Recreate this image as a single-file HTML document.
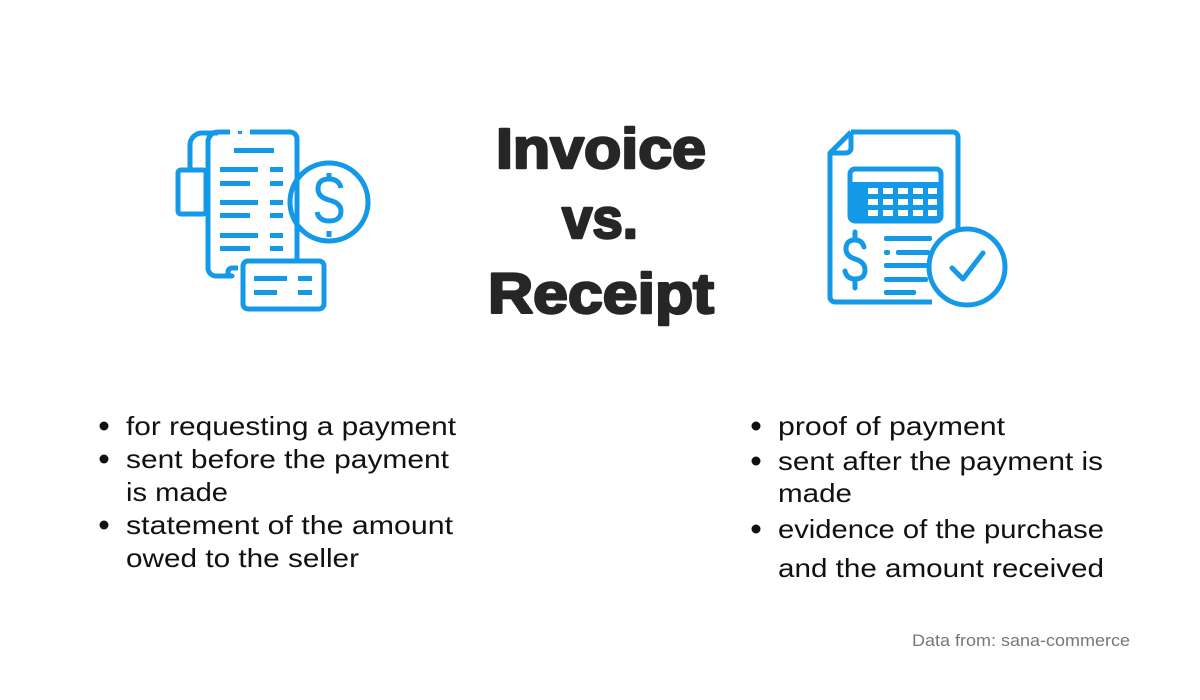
<!DOCTYPE html>
<html><head><meta charset="utf-8"><style>
html,body{margin:0;padding:0;background:#fff;}
svg{display:block;}
</style></head><body>
<svg width="1200" height="700" viewBox="0 0 1200 700" xmlns="http://www.w3.org/2000/svg">
<rect width="1200" height="700" fill="#fff"/>
<!-- Left icon -->
<g fill="none" stroke="#1399e8" stroke-width="5" stroke-linejoin="round" stroke-linecap="butt">
  <rect x="178" y="170" width="28" height="44" rx="3"/>
  <path d="M208 270 V142 a10 10 0 0 1 10 -10 H230 M250 132 H290 a7 7 0 0 1 7 7 V260"/>
  <path d="M190 170 V145 a12 12 0 0 1 12 -12 h16"/>
  <path d="M208 268 a8 8 0 0 0 8 8 H232 a4 4 0 0 1 0 -8 h6"/>
  <rect x="243" y="261" width="81" height="48" rx="5"/>
  <circle cx="329" cy="202" r="39"/>
  <path d="M341 188 q-2 -9 -12 -9 q-11 0 -11 10 q0 8 11 11 q12 3 12 11 q0 10 -12 10 q-10 0 -12 -9 M329 173 v6 M329 231 v6"/>
</g>
<g fill="#1399e8">
  <rect x="238" y="131" width="4" height="3"/>
  <rect x="234" y="148" width="40" height="5"/>
  <rect x="220" y="167" width="38" height="5"/><rect x="270" y="167" width="13" height="5"/>
  <rect x="220" y="181" width="30" height="5"/><rect x="270" y="181" width="13" height="5"/>
  <rect x="220" y="200" width="38" height="5"/><rect x="270" y="200" width="13" height="5"/>
  <rect x="220" y="213" width="30" height="5"/><rect x="270" y="213" width="13" height="5"/>
  <rect x="220" y="233" width="38" height="5"/><rect x="270" y="233" width="13" height="5"/>
  <rect x="220" y="246" width="30" height="5"/><rect x="270" y="246" width="13" height="5"/>
  <rect x="254" y="276" width="33" height="5"/><rect x="298" y="276" width="14" height="5"/>
  <rect x="254" y="290" width="23" height="5"/><rect x="298" y="290" width="14" height="5"/>
</g>
<!-- Right icon -->
<g fill="none" stroke="#1399e8" stroke-width="5" stroke-linejoin="round">
  <path d="M851 132 H953 a5 5 0 0 1 5 5 V232"/>
  <path d="M932 302 H835 a5 5 0 0 1 -5 -5 V153 L851 132"/>
  <path d="M830 153 H846 a5 5 0 0 0 5 -5 V132"/>
  <rect x="850" y="169" width="91" height="52" rx="5"/>
  <circle cx="967" cy="267" r="38"/>
  <path d="M952 268 L963 279 L983 253" stroke-linecap="round"/>
  <path d="M864 247 q-2 -7 -9 -7 q-9 0 -9 9 q0 7 9 10 q10 3 10 11 q0 9 -10 9 q-8 0 -10 -8 M855 232 v8 M855 279 v9" stroke-linecap="round"/>
</g>
<g fill="#1399e8">
  <rect x="850" y="182" width="91" height="38"/>
</g>
<g fill="#fff">
  <rect x="868" y="188" width="10" height="6"/><rect x="883" y="188" width="10" height="6"/><rect x="898" y="188" width="10" height="6"/><rect x="913" y="188" width="10" height="6"/><rect x="928" y="188" width="9" height="6"/>
  <rect x="868" y="199" width="10" height="6"/><rect x="883" y="199" width="10" height="6"/><rect x="898" y="199" width="10" height="6"/><rect x="913" y="199" width="10" height="6"/><rect x="928" y="199" width="9" height="6"/>
  <rect x="868" y="210" width="10" height="6"/><rect x="883" y="210" width="10" height="6"/><rect x="898" y="210" width="10" height="6"/><rect x="913" y="210" width="10" height="6"/><rect x="928" y="210" width="9" height="6"/>
</g>
<g fill="#1399e8">
  <rect x="884" y="236" width="48" height="5" rx="2"/>
  <rect x="884" y="250" width="6" height="5" rx="2"/><rect x="896" y="250" width="34" height="5" rx="2"/>
  <rect x="884" y="263" width="44" height="5" rx="2"/>
  <rect x="884" y="277" width="44" height="5" rx="2"/>
  <rect x="884" y="290" width="32" height="5" rx="2"/>
</g>
<!-- Title -->
<g font-family="Liberation Sans, sans-serif" font-weight="bold" fill="#262626" stroke="#262626" stroke-width="2.5" stroke-linejoin="round" text-anchor="middle" font-size="57">
  <text x="601" y="168" textLength="210" lengthAdjust="spacingAndGlyphs">Invoice</text>
  <text x="600" y="238" textLength="76" lengthAdjust="spacingAndGlyphs">vs.</text>
  <text x="601" y="313" textLength="226" lengthAdjust="spacingAndGlyphs">Receipt</text>
</g>
<!-- Bullets -->
<g font-family="Liberation Sans, sans-serif" font-size="26" fill="#111">
  <circle cx="104" cy="426" r="4.5"/><circle cx="104" cy="459" r="4.5"/><circle cx="104" cy="525" r="4.5"/>
  <text x="126" y="435" textLength="330" lengthAdjust="spacingAndGlyphs">for requesting a payment</text>
  <text x="126" y="468" textLength="323" lengthAdjust="spacingAndGlyphs">sent before the payment</text>
  <text x="126" y="501" textLength="102" lengthAdjust="spacingAndGlyphs">is made</text>
  <text x="126" y="534" textLength="327" lengthAdjust="spacingAndGlyphs">statement of the amount</text>
  <text x="126" y="567" textLength="233" lengthAdjust="spacingAndGlyphs">owed to the seller</text>
  <circle cx="756" cy="426" r="4.5"/><circle cx="756" cy="461" r="4.5"/><circle cx="756" cy="529" r="4.5"/>
  <text x="778" y="435" textLength="227" lengthAdjust="spacingAndGlyphs">proof of payment</text>
  <text x="778" y="470" textLength="325" lengthAdjust="spacingAndGlyphs">sent after the payment is</text>
  <text x="778" y="502" textLength="74" lengthAdjust="spacingAndGlyphs">made</text>
  <text x="778" y="538" textLength="326" lengthAdjust="spacingAndGlyphs">evidence of the purchase</text>
  <text x="778" y="577" textLength="326" lengthAdjust="spacingAndGlyphs">and the amount received</text>
</g>
<text x="912" y="646" font-family="Liberation Sans, sans-serif" font-size="17" fill="#777" textLength="218" lengthAdjust="spacingAndGlyphs">Data from: sana-commerce</text>
</svg>
</body></html>
